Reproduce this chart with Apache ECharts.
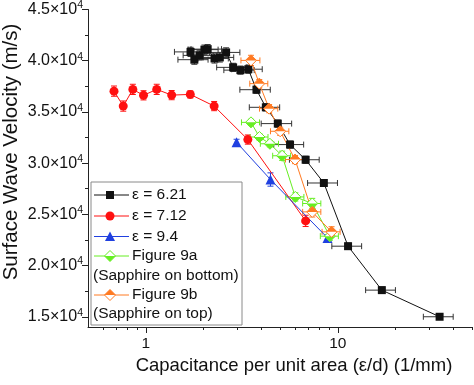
<!DOCTYPE html>
<html><head><meta charset="utf-8">
<script src="https://cdn.jsdelivr.net/npm/echarts@6/dist/echarts.min.js"></script>
<style>html,body{margin:0;padding:0;background:#fff}#c{width:474px;height:385px}</style>
</head><body><div id="c"></div>
<script>
// ---- data ----
const blackX = [1.71, 1.79, 1.905, 2.02, 2.10, 2.28, 2.43, 2.62, 2.85, 3.11, 3.42, 3.77, 4.22, 4.87, 5.64, 6.80, 8.46, 11.31, 16.96, 33.9];
const blackY = [40860, 40100, 40520, 41080, 41130, 40220, 40320, 40810, 39350, 39080, 39170, 37170, 35450, 33860, 31810, 30330, 28060, 21890, 17600, 15000];
const blackXErr = [0.30, 0.32, 0.34, 0.36, 0.38, 0.41, 0.44, 0.47, 0.51, 0.56, 0.62, 0.68, 0.76, 0.88, 1.0, 1.2, 1.5, 2.0, 3.0, 6.0];
const blackYErr = [450, 450, 450, 450, 450, 450, 450, 450, 400, 400, 400, 350, 350, 350, 350, 350, 300, 300, 300, 250];

const redX = [0.683, 0.763, 0.856, 0.973, 1.14, 1.364, 1.705, 2.27, 3.40, 6.80];
const redY = [37030, 35570, 37200, 36620, 37200, 36640, 36710, 35570, 32300, 24360];
const redYErr = [500, 500, 500, 450, 500, 450, 350, 450, 450, 550];

const blueX = [2.97, 4.46, 8.84];
const blueY = [32030, 28400, 22700];
const blueYErr = [300, 650, 300];

const greenX = [3.53, 3.91, 4.43, 5.13, 6.01, 7.36, 9.09];
const greenY = [33980, 32550, 31890, 30720, 26700, 26060, 22870];
const greenXErr = [0.38, 0.42, 0.48, 0.55, 0.65, 0.80, 0.98];
const greenYErr = [300, 300, 300, 450, 400, 500, 400];

const orangeX = [3.53, 3.90, 4.39, 5.01, 5.99, 7.36, 9.28];
const orangeY = [40030, 37760, 35320, 33110, 30350, 25240, 23290];
const orangeXErr = [0.40, 0.42, 0.48, 0.55, 0.65, 0.80, 1.0];
const orangeYErr = [500, 400, 400, 400, 400, 500, 500];

const yMajorTicks = [15000, 20000, 25000, 30000, 35000, 40000, 45000];
const yMinorTicks = [17500, 22500, 27500, 32500, 37500, 42500];
const xMajorTicks = [1, 10];
const xMinorTicks = [0.6, 0.7, 0.8, 0.9, 2, 3, 4, 5, 6, 7, 8, 9, 20, 30, 40, 50];

const legendNames = ['ε = 6.21', 'ε = 7.12', 'ε = 9.4', 'Figure 9a', 'Figure 9b'];
const legendSub = ['(Sapphire on bottom)', '(Sapphire on top)'];

// ---- styles ----
const FONT = '"Liberation Sans", Arial, sans-serif';
const C_BLACK = '#111111', C_RED = '#ff1010', C_BLUE = '#2040e0', C_GREEN = '#66ee22', C_ORANGE = '#ff7a22';

function pairs(xs, ys) { return xs.map((x, i) => [x, ys[i]]); }

function errSeries(xs, ys, xe, ye, color) {
  const data = xs.map((x, i) => [x, ys[i], xe ? xe[i] : 0, ye ? ye[i] : 0]);
  return {
    type: 'custom', data, z: 2, silent: true, encode: { x: 0, y: 1 },
    renderItem(params, api) {
      const x = api.value(0), y = api.value(1), dx = api.value(2), dy = api.value(3);
      const st = { stroke: color, lineWidth: 1 };
      const ch = [];
      const cap = 3;
      if (dx > 0) {
        const a = api.coord([x - dx, y]), b = api.coord([x + dx, y]);
        ch.push({ type: 'line', shape: { x1: a[0], y1: a[1], x2: b[0], y2: b[1] }, style: st });
        ch.push({ type: 'line', shape: { x1: a[0], y1: a[1] - cap, x2: a[0], y2: a[1] + cap }, style: st });
        ch.push({ type: 'line', shape: { x1: b[0], y1: b[1] - cap, x2: b[0], y2: b[1] + cap }, style: st });
      }
      if (dy > 0) {
        const a = api.coord([x, y - dy]), b = api.coord([x, y + dy]);
        ch.push({ type: 'line', shape: { x1: a[0], y1: a[1], x2: b[0], y2: b[1] }, style: st });
        ch.push({ type: 'line', shape: { x1: a[0] - cap, y1: a[1], x2: a[0] + cap, y2: a[1] }, style: st });
        ch.push({ type: 'line', shape: { x1: b[0] - cap, y1: b[1], x2: b[0] + cap, y2: b[1] }, style: st });
      }
      return { type: 'group', children: ch };
    }
  };
}

function halfDiamondShapes(cx, cy, color, topFilled, s) {
  return [
    { type: 'polygon', shape: { points: [[cx - s, cy], [cx, cy - s], [cx + s, cy], [cx, cy + s]] }, style: { fill: '#fff', stroke: color, lineWidth: 1 } },
    { type: 'polygon', shape: { points: topFilled ? [[cx - s, cy], [cx, cy - s], [cx + s, cy]] : [[cx - s, cy], [cx, cy + s], [cx + s, cy]] }, style: { fill: color } }
  ];
}

function halfMarkerSeries(xs, ys, color, topFilled) {
  return {
    type: 'custom', data: pairs(xs, ys), z: 4, silent: true, encode: { x: 0, y: 1 },
    renderItem(params, api) {
      const p = api.coord([api.value(0), api.value(1)]);
      return { type: 'group', children: halfDiamondShapes(p[0], p[1], color, topFilled, 5.5) };
    }
  };
}

function lineSeries(xs, ys, color, symbol, size, showSymbol) {
  return {
    type: 'line', data: pairs(xs, ys), z: 3, silent: true,
    symbol, symbolSize: size, showSymbol,
    lineStyle: { color, width: 1 }, itemStyle: { color },
    animation: false
  };
}

// ---- legend (graphic) ----
const LX0 = 94, LX1 = 129, LM = 110, LT = 132;
const rowsY = [195, 216, 236.5, 256, 295];
const subY = [276, 314];
const legendColors = [C_BLACK, C_RED, C_BLUE, C_GREEN, C_ORANGE];
const legendGraphics = [
  { type: 'rect', shape: { x: 91, y: 182, width: 151, height: 143 }, style: { fill: '#fff', stroke: '#8a8a8a', lineWidth: 1 }, z: 100 }
];
legendNames.forEach((name, i) => {
  const y = rowsY[i], col = legendColors[i];
  legendGraphics.push({ type: 'line', shape: { x1: LX0, y1: y, x2: LX1, y2: y }, style: { stroke: col, lineWidth: 1 }, z: 101 });
  if (i === 0) legendGraphics.push({ type: 'rect', shape: { x: LM - 4, y: y - 4, width: 8, height: 8 }, style: { fill: col }, z: 102 });
  if (i === 1) legendGraphics.push({ type: 'circle', shape: { cx: LM, cy: y, r: 4.5 }, style: { fill: col }, z: 102 });
  if (i === 2) legendGraphics.push({ type: 'polygon', shape: { points: [[LM - 5, y + 4.5], [LM, y - 5], [LM + 5, y + 4.5]] }, style: { fill: col }, z: 102 });
  if (i === 3) halfDiamondShapes(LM, y, col, false, 5.5).forEach(s => { s.z = 102; legendGraphics.push(s); });
  if (i === 4) halfDiamondShapes(LM, y, col, true, 5.5).forEach(s => { s.z = 102; legendGraphics.push(s); });
  legendGraphics.push({ type: 'text', x: LT, y, style: { text: name, font: '15.5px ' + FONT, fill: '#111', textVerticalAlign: 'middle' }, z: 102 });
});
legendSub.forEach((t, i) => {
  legendGraphics.push({ type: 'text', x: 93, y: subY[i], style: { text: t, font: '15.5px ' + FONT, fill: '#111', textVerticalAlign: 'middle' }, z: 102 });
});
legendGraphics.push({ type: 'text', x: 294, y: 366, style: { text: 'Capacitance per unit area (ε/d) (1/mm)', font: '18.5px ' + FONT, fill: '#111', textAlign: 'center', textVerticalAlign: 'middle' } });
legendGraphics.push({ type: 'text', x: 11, y: 152, rotation: Math.PI / 2, style: { text: 'Surface Wave Velocity (m/s)', font: '20.5px ' + FONT, fill: '#111', textAlign: 'center', textVerticalAlign: 'middle' } });

const axisLineStyle = { show: true, lineStyle: { color: '#222', width: 1 } };

const option = {
  animation: false,
  backgroundColor: '#fff',
  grid: { left: 88, top: 9, width: 384, height: 318, containLabel: false },
  xAxis: [
    { type: 'log', logBase: 10, min: 0.5, max: 50, position: 'bottom',
      axisLine: axisLineStyle, splitLine: { show: false },
      axisTick: { show: true, inside: false, length: 6, customValues: xMajorTicks, lineStyle: { color: '#222' } },
      axisLabel: { customValues: xMajorTicks, formatter: v => String(v), color: '#111', fontSize: 15.5, fontFamily: FONT, margin: 9 } },
    { type: 'log', logBase: 10, min: 0.5, max: 50, position: 'bottom',
      axisLine: { show: false }, splitLine: { show: false },
      axisTick: { show: true, inside: false, length: 3, customValues: xMinorTicks, lineStyle: { color: '#222' } },
      axisLabel: { show: false } }
  ],
  yAxis: [
    { type: 'value', min: 14000, max: 45000, position: 'left',
      axisLine: axisLineStyle, splitLine: { show: false },
      axisTick: { show: true, inside: false, length: 6, customValues: yMajorTicks, lineStyle: { color: '#222' } },
      axisLabel: { customValues: yMajorTicks, margin: 5, color: '#111', fontFamily: FONT,
        formatter: v => '{n|' + (v / 10000).toFixed(1) + '×10}{e|4}',
        rich: { n: { fontSize: 16, fontFamily: FONT, color: '#111', lineHeight: 19 },
                e: { fontSize: 10.5, fontFamily: FONT, color: '#111', verticalAlign: 'top', lineHeight: 19 } } } },
    { type: 'value', min: 14000, max: 45000, position: 'left',
      axisLine: { show: false }, splitLine: { show: false },
      axisTick: { show: true, inside: false, length: 3, customValues: yMinorTicks, lineStyle: { color: '#222' } },
      axisLabel: { show: false } }
  ],
  graphic: legendGraphics,
  series: [
    errSeries(blackX, blackY, blackXErr, blackYErr, '#333'),
    lineSeries(blackX, blackY, C_BLACK, 'rect', 8, true),
    errSeries(redX, redY, null, redYErr, C_RED),
    lineSeries(redX, redY, C_RED, 'circle', 9, true),
    errSeries(blueX, blueY, null, blueYErr, C_BLUE),
    lineSeries(blueX, blueY, C_BLUE, 'triangle', 10, true),
    errSeries(greenX, greenY, greenXErr, greenYErr, C_GREEN),
    lineSeries(greenX, greenY, C_GREEN, 'none', 0, false),
    halfMarkerSeries(greenX, greenY, C_GREEN, false),
    errSeries(orangeX, orangeY, orangeXErr, orangeYErr, C_ORANGE),
    lineSeries(orangeX, orangeY, C_ORANGE, 'none', 0, false),
    halfMarkerSeries(orangeX, orangeY, C_ORANGE, true)
  ]
};
const chart = echarts.init(document.getElementById('c'), null, { renderer: 'canvas' });
chart.setOption(option);
</script>
</body></html>
